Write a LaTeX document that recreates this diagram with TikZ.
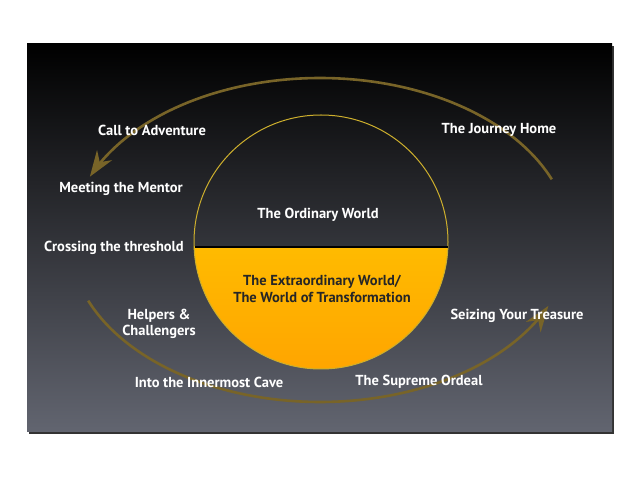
\documentclass[tikz,border=0pt]{standalone}
\usepackage{fontspec}
\setmainfont{PT Sans}
\usetikzlibrary{arrows.meta}
\definecolor{arc}{RGB}{120,100,40}
\definecolor{ring}{RGB}{205,175,45}
\definecolor{slidebot}{RGB}{98,101,112}
\tikzset{lab/.style={text=white,font=\bfseries\fontsize{14.5}{16.5}\selectfont,align=center,inner sep=0pt},
 journey/.style={draw=arc,line width=2.6pt,-{Stealth[length=26pt,width=18pt]}}}
\begin{document}
\begin{tikzpicture}[x=1pt,y=-1pt]
\useasboundingbox (0,0) rectangle (638,478);
\fill[white] (0,0) rectangle (638,478);
\fill[black!80] (29,46) rectangle (614,434);
\shade[top color=black,bottom color=slidebot] (27,44) rectangle (612,432);
\draw[journey] plot[domain=-22:-157,samples=60,smooth] ({320+250*cos(\x)},{240+162*sin(\x)});
\draw[journey] plot[domain=158:24,samples=60,smooth] ({320+250*cos(\x)},{240+162*sin(\x)});
\begin{scope}
\clip (194,247) rectangle (450,372);
\shade[top color={rgb,255:red,255;green,210;blue,0},bottom color={rgb,255:red,255;green,165;blue,0}] (321,242) circle (127);
\end{scope}
\draw[ring,line width=1pt] (321,242) circle (127);
\draw[black,line width=1.2pt] (194.5,247) -- (447.5,247);
\node[lab] (a) at (152,130) {Call to Adventure};
\node[lab] (b) at (499,130) {The Journey Home};
\node[lab] (c) at (121,189) {Meeting the Mentor};
\node[lab] (d) at (318,215) {The Ordinary World};
\node[lab] (e) at (114,248) {Crossing the threshold};
\node[lab,text=black!85] (f) at (322,289) {The Extraordinary World/\\The World of Transformation};
\node[lab] (g) at (159,324) {Helpers \&\\Challengers};
\node[lab] (h) at (517,316) {Seizing Your Treasure};
\node[lab] (i) at (209,382) {Into the Innermost Cave};
\node[lab] (j) at (419,382) {The Supreme Ordeal};
\end{tikzpicture}
\end{document}
